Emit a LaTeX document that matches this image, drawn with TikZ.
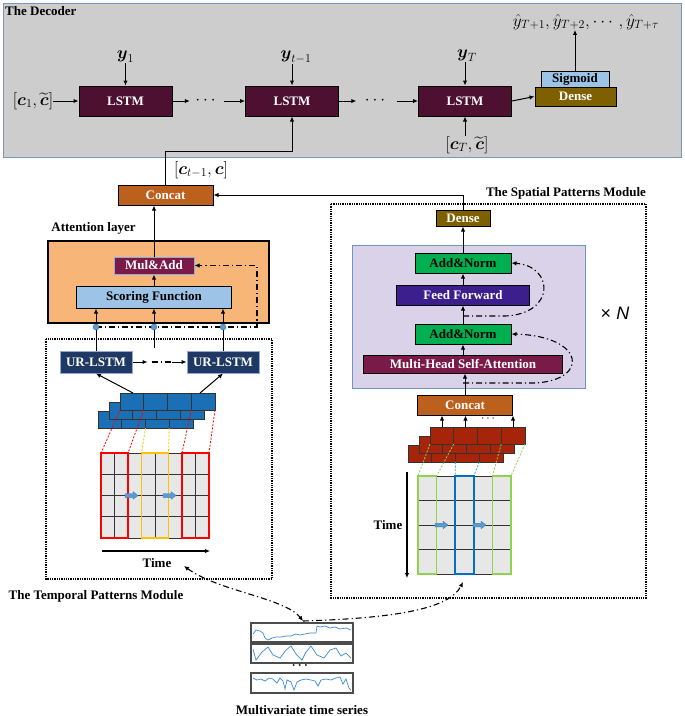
\documentclass[tikz,border=0pt]{standalone}
\usepackage{fontspec}
\setmainfont{Liberation Serif}
\newfontfamily\sansf{Liberation Sans}
\usepackage{amsmath}
\usetikzlibrary{arrows.meta,calc}

\definecolor{decgray}{RGB}{205,205,205}
\definecolor{decline}{RGB}{120,150,185}
\definecolor{lstmred}{RGB}{77,16,48}
\definecolor{densebrown}{RGB}{127,96,0}
\definecolor{lightblue}{RGB}{157,195,230}
\definecolor{concatorange}{RGB}{188,96,30}
\definecolor{attorange}{RGB}{247,182,120}
\definecolor{mulred}{RGB}{122,26,72}
\definecolor{urnavy}{RGB}{31,56,100}
\definecolor{urline}{RGB}{143,170,220}
\definecolor{brickblue}{RGB}{26,111,181}
\definecolor{brickred}{RGB}{166,36,10}
\definecolor{lavender}{RGB}{217,210,233}
\definecolor{lavline}{RGB}{110,150,195}
\definecolor{addgreen}{RGB}{0,176,80}
\definecolor{ffpurple}{RGB}{60,30,140}
\definecolor{gridgray}{RGB}{231,231,231}
\definecolor{arrowblue}{RGB}{91,155,213}
\definecolor{waveblue}{RGB}{58,138,214}
\definecolor{gridgreen}{RGB}{146,208,80}
\definecolor{gridyellow}{RGB}{255,192,0}
\definecolor{gridblue}{RGB}{0,112,192}

\tikzset{
  box/.style={draw=black, line width=1pt, inner sep=0pt, font=\fontsize{13}{15}\selectfont\bfseries},
  lstm/.style={box, fill=lstmred, text=white, minimum width=93pt, minimum height=30pt},
  catbox/.style={box, fill=concatorange, text=white, minimum width=95pt, minimum height=20pt},
  densebox/.style={box, fill=densebrown, text=white},
  urlstm/.style={box, fill=urnavy, draw=urline, text=white, minimum width=72pt, minimum height=22pt},
  addnorm/.style={box, fill=addgreen, minimum width=96pt, minimum height=20pt},
  lab/.style={font=\fontsize{13}{15}\selectfont\bfseries, inner sep=1pt},
  mathlab/.style={font=\fontsize{18}{20}\selectfont, inner sep=0pt},
  arr/.style={-{Latex[length=5pt,width=4.5pt]}, line width=1pt},
  dd/.style={line width=1.1pt, dash pattern=on 6pt off 3pt on 1.2pt off 3pt},
  dotbox/.style={densely dotted, line width=1.3pt},
  junction/.style={circle, fill=arrowblue, draw=arrowblue!70!black, inner sep=0pt, minimum size=6pt},
  reddash/.style={red, line width=0.8pt, dash pattern=on 2pt off 1.5pt},
  yellowdash/.style={gridyellow, line width=0.8pt, dash pattern=on 2pt off 1.5pt},
  greendash/.style={gridgreen, line width=0.8pt, dash pattern=on 2pt off 1.5pt},
  bluedash/.style={gridblue!70, line width=0.8pt, dash pattern=on 2pt off 1.5pt},
  tsbox/.style={draw=black!70, line width=1.2pt},
  wave/.style={waveblue, line width=0.7pt},
}

\def\bricks(#1,#2)#3{\draw[fill=#3, draw=black!80, line width=0.7pt] (#1,#2) rectangle ++(95,17);
  \foreach \k in {1,2,3} \draw[black!80, line width=0.7pt] (#1+23.75*\k,#2) -- ++(0,17);}
\def\fatarrow(#1,#2){\draw[fill=arrowblue, draw=arrowblue!80!black, line width=0.4pt] (#1,#2-1.8) -- ++(8,0) -- ++(0,-2) -- ++(5,3.8) -- ++(-5,3.8) -- ++(0,-2) -- ++(-8,0) -- cycle;}

\begin{document}
\begin{tikzpicture}[x=1pt,y=-1pt]
  %%%%% START %%%%%
  \useasboundingbox (0,0) rectangle (685,716);

  %% the decoder
  \draw[fill=decgray, draw=decline, line width=1pt] (3,3) rectangle (681,157);
  \node[lab, anchor=north west] at (4,5) {The Decoder};

  \node[lstm] (lstm1) at (125.5,101) {LSTM};
  \node[lstm] (lstm2) at (292,101) {LSTM};
  \node[lstm] (lstm3) at (465,101) {LSTM};
  \node[mathlab] (c1) at (33,101) {$[\boldsymbol{c}_1,\widetilde{\boldsymbol{c}}]$};
  \node[mathlab, minimum width=34pt] (dots1) at (207,101) {$\cdots$};
  \node[mathlab, minimum width=40pt] (dots2) at (376.5,101) {$\cdots$};
  \node[mathlab] (y1) at (125.5,57) {$\boldsymbol{y}_1$};
  \node[mathlab] (yt1) at (296,57) {$\boldsymbol{y}_{t-1}$};
  \node[mathlab] (yT) at (467,56) {$\boldsymbol{y}_T$};
  \node[mathlab] (cT) at (467,145) {$[\boldsymbol{c}_T,\widetilde{\boldsymbol{c}}]$};

  \node[densebox, minimum width=81pt, minimum height=19pt] (dns1) at (575.5,96.5) {Dense};
  \node[box, fill=lightblue, minimum width=68pt, minimum height=16pt] (sig) at (575,79) {Sigmoid};
  \node[mathlab] (out) at (586,22) {$\hat{y}_{T+1},\hat{y}_{T+2},\cdots,\hat{y}_{T+\tau}$};

  \draw[arr] (c1.east) -- (lstm1.west);
  \draw[arr] (lstm1.east) -- (dots1.west);
  \draw[arr] (dots1.east) -- (lstm2.west);
  \draw[arr] (lstm2.east) -- (dots2.west);
  \draw[arr] (dots2.east) -- (lstm3.west);
  \draw[arr] (lstm3.east) -- (dns1.west);
  \draw[arr] (y1.south -| lstm1) -- (lstm1.north);
  \draw[arr] (yt1.south -| lstm2) -- (lstm2.north);
  \draw[arr] (yT.south -| lstm3) -- (lstm3.north);
  \draw[arr] (cT.north -| lstm3) -- (lstm3.south);
  \draw[arr] (sig.north) -- (sig.north |- out.south);

  %% concat and the attention layer
  \node[catbox] (cat1) at (165.5,195) {Concat};
  \draw[arr] (cat1.north) -- ++(0,-33) -| (lstm2.south);
  \node[mathlab] (ctl) at (201,170) {$[\boldsymbol{c}_{t-1},\boldsymbol{c}]$};

  \node[lab] at (93.5,228) {Attention layer};
  \draw[fill=attorange, line width=1.3pt] (48,241) rectangle (269,323);
  \node[box, fill=mulred, draw=urline, text=white, minimum width=80pt, minimum height=17pt] (mul) at (154,265.5) {Mul\&Add};
  \node[box, fill=lightblue, minimum width=155pt, minimum height=22pt] (score) at (154,297) {Scoring Function};
  \draw[arr] (mul.north) -- (mul.north |- cat1.south);
  \draw[arr] (score.north) -- (mul.south);

  \coordinate (p1) at (96,327);
  \coordinate (p2) at (154,327);
  \coordinate (p3) at (223,327);
  \coordinate (attc) at (257,327);
  \draw[dd, -{Latex[length=5pt,width=4.5pt]}] (p1) -- (attc) |- (mul.east);
  \foreach \p in {p1,p2,p3} \draw[arr] (\p) -- (\p |- score.south);

  %% the temporal patterns module
  \draw[dotbox] (46,339) rectangle (272,579);
  \node[urlstm] (ur1) at (96,362) {UR-LSTM};
  \node[urlstm] (ur2) at (223,362) {UR-LSTM};
  \coordinate (p2s) at (154,348);
  \draw[line width=1pt] (ur1.north) -- (p1);
  \draw[line width=1pt] (ur2.north) -- (p3);
  \draw[line width=1pt] (p2s) -- (p2);
  \foreach \p in {p1,p2,p3} \node[junction] at (\p) {};
  \draw[arr] (ur1.east) -- ++(15,0);
  \draw[dd] ($(ur1.east)+(19,0)$) -- ($(ur2.west)+(-15,0)$);
  \draw[arr] ($(ur2.west)+(-15,0)$) -- (ur2.west);

  \bricks(98,411){brickblue}
  \bricks(109,402){brickblue}
  \bricks(120,393){brickblue}
  \coordinate (bt1) at (133,393);
  \coordinate (bt2) at (200,393);
  \draw[arr] (bt1) -- (ur1.south);
  \draw[arr] (bt2) -- (ur2.south);

  \draw[reddash] (120,410) -- (101,453);
  \draw[reddash] (143.75,410) -- (128,453);
  \draw[reddash] (191.25,410) -- (182,453);
  \draw[reddash] (215,410) -- (209,453);
  \draw[yellowdash] (145.5,428) -- (141.5,453);
  \draw[yellowdash] (169.25,428) -- (168.5,453);

  \draw[fill=gridgray, draw=black!80, line width=0.8pt] (101,453) rectangle (209,538);
  \foreach \i in {1,...,7} \draw[black!80, line width=0.8pt] (101+13.5*\i,453) -- ++(0,85);
  \foreach \j in {1,2,3} \draw[black!80, line width=0.8pt] (101,453+21.25*\j) -- ++(108,0);
  \draw[red, line width=1.5pt] (101,453) rectangle (128,538);
  \draw[red, line width=1.5pt] (182,453) rectangle (209,538);
  \draw[gridyellow, line width=1.5pt] (141.5,453) rectangle (168.5,538);
  \fatarrow(125,495.5)
  \fatarrow(163,495.5)

  \draw[arr, line width=1.5pt] (102,551) -- (210,551);
  \node[lab] (tm1) at (157,563) {Time};
  \node[lab] at (96,596) {The Temporal Patterns Module};

  %% the spatial patterns module
  \node[lab] at (566,193) {The Spatial Patterns Module};
  \draw[dotbox] (331,204) rectangle (646,598);
  \node[densebox, minimum width=54pt, minimum height=16pt] (dns2) at (463,218) {Dense};
  \draw[arr] (dns2.north) |- (cat1.east);

  \draw[fill=lavender, draw=lavline, line width=1pt] (352,245) rectangle (585,388);
  \node[addnorm] (an2) at (463,263) {Add\&Norm};
  \node[box, fill=ffpurple, text=white, minimum width=133pt, minimum height=20pt] (ff) at (463,295) {Feed Forward};
  \node[addnorm] (an1) at (463,334) {Add\&Norm};
  \node[box, fill=mulred, text=white, minimum width=199pt, minimum height=18pt] (mhsa) at (463,364) {Multi-Head Self-Attention};
  \node[catbox] (cat2) at (465,405) {Concat};

  \draw[arr] (cat2.north) -- (cat2.north |- mhsa.south);
  \draw[arr] (mhsa) -- (an1);
  \draw[arr] (an1) -- (ff);
  \draw[arr] (ff) -- (an2);
  \draw[arr] (an2) -- (dns2);

  \coordinate (r2) at (463,316);
  \coordinate (r1) at (463,383);
  \draw[dd, -{Latex[length=5pt,width=4.5pt]}] (r2) -- (505,316) .. controls (556,314) and (554,266) .. (an2.east);
  \draw[dd, -{Latex[length=5pt,width=4.5pt]}] (r1) -- (535,383) .. controls (590,380) and (585,336) .. (an1.east);
  \node[font=\sansf\fontsize{18}{20}\selectfont] at (615,313) {× \textit{N}};

  \bricks(408,445){brickred}
  \bricks(419,436){brickred}
  \bricks(430,427){brickred}
  \coordinate (rb1) at (442,427);
  \coordinate (rb2) at (465.5,427);
  \coordinate (rb4) at (513,427);
  \foreach \b in {rb1,rb2,rb4} \draw[arr] (\b) -- (\b |- cat2.south);
  \node[font=\fontsize{12}{14}\selectfont] at (489,419) {$\cdots$};

  \draw[greendash] (430,444) -- (418,476);
  \draw[greendash] (453.75,444) -- (436.6,476);
  \draw[greendash] (501.25,444) -- (492.4,476);
  \draw[greendash] (525,444) -- (511,476);
  \draw[bluedash] (455.5,462) -- (455.2,476);
  \draw[bluedash] (479.25,462) -- (473.8,476);

  \draw[fill=gridgray, draw=black!80, line width=0.8pt] (418,476) rectangle (511,574);
  \foreach \i in {1,...,4} \draw[black!80, line width=0.8pt] (418+18.6*\i,476) -- ++(0,98);
  \foreach \j in {1,2,3} \draw[black!80, line width=0.8pt] (418,476+24.5*\j) -- ++(93,0);
  \draw[gridgreen, line width=1.5pt] (418,476) rectangle (436.6,574);
  \draw[gridgreen, line width=1.5pt] (492.4,476) rectangle (511,574);
  \draw[gridblue, line width=1.5pt] (455.2,476) rectangle (473.8,574);
  \fatarrow(435,525)
  \fatarrow(473,525)

  \draw[arr, line width=1.5pt] (407,472) -- (407,578);
  \node[lab] (tm2) at (388,525) {Time};

  %% multivariate time series
  \draw[tsbox] (251,623) rectangle (353,642);
  \draw[tsbox] (251,644) rectangle (353,663);
  \draw[tsbox] (251,673) rectangle (353,693);
  \draw[wave] plot coordinates {(253,634) (256,630) (260,631) (263,633) (265,638) (268,640) (272,638) (276,637) (281,637) (286,636) (291,636) (296,634) (300,635) (305,634) (310,633) (316,633) (317,626) (320,627) (325,626) (330,628) (335,627) (340,629) (346,628) (351,630)};
  \draw[wave] plot coordinates {(253,649) (256,660) (262,652) (268,647) (273,655) (280,658) (286,650) (291,646) (296,654) (302,660) (306,652) (311,646) (317,655) (324,658) (330,650) (336,648) (341,656) (346,653) (351,658)};
  \draw[wave] plot coordinates {(253,678) (257,680) (261,679) (265,681) (269,678) (273,679) (277,683) (280,678) (283,681) (285,689) (287,680) (291,682) (294,690) (297,682) (301,680) (306,679) (311,680) (315,681) (318,686) (321,680) (326,679) (331,680) (336,678) (340,677) (343,684) (346,679) (349,688) (351,690)};
  \node[font=\fontsize{13}{15}\selectfont] (tsdots) at (301,666) {$\boldsymbol{\cdots}$};
  \node[lab] (tslab) at (302,710) {Multivariate time series};

  \coordinate (tstop) at (303,621);
  \coordinate (tmpend) at (184,566);
  \coordinate (spend) at (463,582);
  \draw[dd, {Latex[length=5pt,width=4.5pt]}-{Latex[length=5pt,width=4.5pt]}] (tmpend) .. controls (218,591) and (285,598) .. (tstop);
  \draw[dd, -{Latex[length=5pt,width=4.5pt]}] (tstop) .. controls (400,618) and (450,608) .. (spend);

  %%%%% END %%%%%
\end{tikzpicture}
\end{document}
